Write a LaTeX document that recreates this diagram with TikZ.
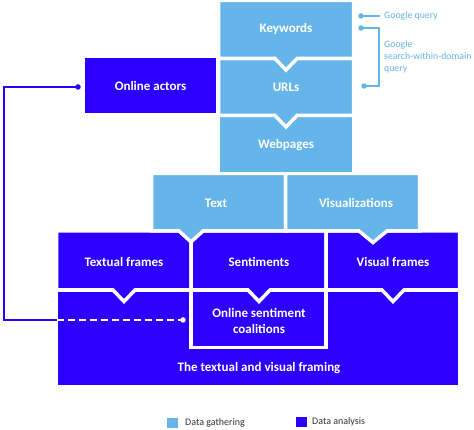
\documentclass[tikz,border=0pt]{standalone}
\usepackage{fontspec}
\setmainfont{Carlito}
\definecolor{lb}{HTML}{66B5EA}
\definecolor{db}{HTML}{2C00FE}
\definecolor{lg}{HTML}{333333}
\begin{document}
\begin{tikzpicture}[x=1pt,y=-1pt,
 shp/.style={draw=white, line width=3.5pt, line join=miter},
 gath/.style={shp, fill=lb},
 anal/.style={shp, fill=db},
 lbl/.style={text=white, font=\fontsize{13}{16}\selectfont\bfseries, align=center, inner sep=0},
 note/.style={text=lb, font=\fontsize{9.8}{12}\selectfont, align=left, anchor=west, inner sep=0},
 leg/.style={text=lg, font=\fontsize{10}{12}\selectfont, anchor=west, inner sep=0},
 legsq/.style={minimum width=11pt, minimum height=10pt, inner sep=0},
 conn/.style={db, line width=1.6pt},
 dotc/.style={circle, fill=#1, draw=none, inner sep=0, minimum size=5.5pt}
]
\useasboundingbox[fill=white] (0,0) rectangle (474,430);

% data analysis shapes
\path[anal] (56.5,290) rectangle (459.5,386.5);
\path[anal] (191,290) rectangle (326,347.5);
\path[anal] (56.5,231) -- (191,231) -- (191,290) -- (135,290) -- (124,301.5) -- (113,290) -- (56.5,290) -- cycle;
\path[anal] (191,231) -- (326,231) -- (326,290) -- (270,290) -- (259,301.5) -- (248,290) -- (191,290) -- cycle;
\path[anal] (326,231) -- (459.5,231) -- (459.5,290) -- (404,290) -- (393,301.5) -- (382,290) -- (326,290) -- cycle;

% data gathering shapes
\path[gath] (151.5,173.5) -- (285.5,173.5) -- (285.5,231) -- (203,231) -- (191,242) -- (179,231) -- (151.5,231) -- cycle;
\path[gath] (285.5,173.5) -- (419.5,173.5) -- (419.5,231) -- (387,231) -- (373,242.5) -- (359,231) -- (285.5,231) -- cycle;
\path[gath] (218.5,115.5) rectangle (353.5,173.5);
\path[gath] (218.5,58.5) -- (353.5,58.5) -- (353.5,115.5) -- (297,115.5) -- (286,127) -- (275,115.5) -- (218.5,115.5) -- cycle;
\path[gath] (218.5,0.3) -- (353.5,0.3) -- (353.5,58.5) -- (297,58.5) -- (286,70) -- (275,58.5) -- (218.5,58.5) -- cycle;

% labels
\node[lbl] (kw) at (286,29) {Keywords};
\node[lbl] (urls) at (286,87) {URLs};
\node[lbl] (web) at (286,145) {Webpages};
\node[lbl] (txt) at (216,203) {Text};
\node[lbl] (vis) at (356,203) {Visualizations};
\node[lbl] (tf) at (124,262) {Textual frames};
\node[lbl] (sen) at (259,262) {Sentiments};
\node[lbl] (vf) at (393,262) {Visual frames};
\node[lbl] (osc) at (259,321) {Online sentiment\\coalitions};
\node[lbl] (tvf) at (259,368) {The textual and visual framing};

% online actors
\node[fill=db, minimum width=131pt, minimum height=55pt, inner sep=0, text=white,
  font=\fontsize{13}{16}\selectfont\bfseries] (actors) at (150.5,85.5) {Online actors};

% connector actors -> coalitions
\coordinate (c0) at (78,87);
\coordinate (c1) at (4,87);
\coordinate (c2) at (4,320);
\coordinate (c3) at (56.5,320);
\coordinate (c4) at (183,320);
\node[dotc=db] (d0) at (c0) {};
\draw[conn] (d0.center) -- (c1) -- (c2) -- (c3);
\draw[white, line width=1.6pt, dash pattern=on 7pt off 4pt] (c3) -- (c4);
\node[dotc=white] (d1) at (c4) {};

% google annotations
\node[dotc=lb] (g1) at (361,16) {};
\coordinate (g1e) at (380,16);
\draw[lb, line width=1.5pt] (g1.center) -- (g1e);
\node[note] (gq) at (384,16) {Google query};
\node[dotc=lb] (g2) at (361,28) {};
\node[dotc=lb] (g3) at (364,86) {};
\coordinate (g2a) at (379,28);
\coordinate (g2b) at (379,86);
\draw[lb, line width=1.5pt] (g2.center) -- (g2a) -- (g2b) -- (g3.center);
\node[note] (gs) at (384,57) {Google\\search-within-domain\\query};

% legend
\node[legsq, fill=lb] (lsq1) at (172.5,423) {};
\node[leg] (lt1) at (185,423) {Data gathering};
\node[legsq, fill=db] (lsq2) at (301.5,422) {};
\node[leg] (lt2) at (312,422) {Data analysis};
\end{tikzpicture}
\end{document}
